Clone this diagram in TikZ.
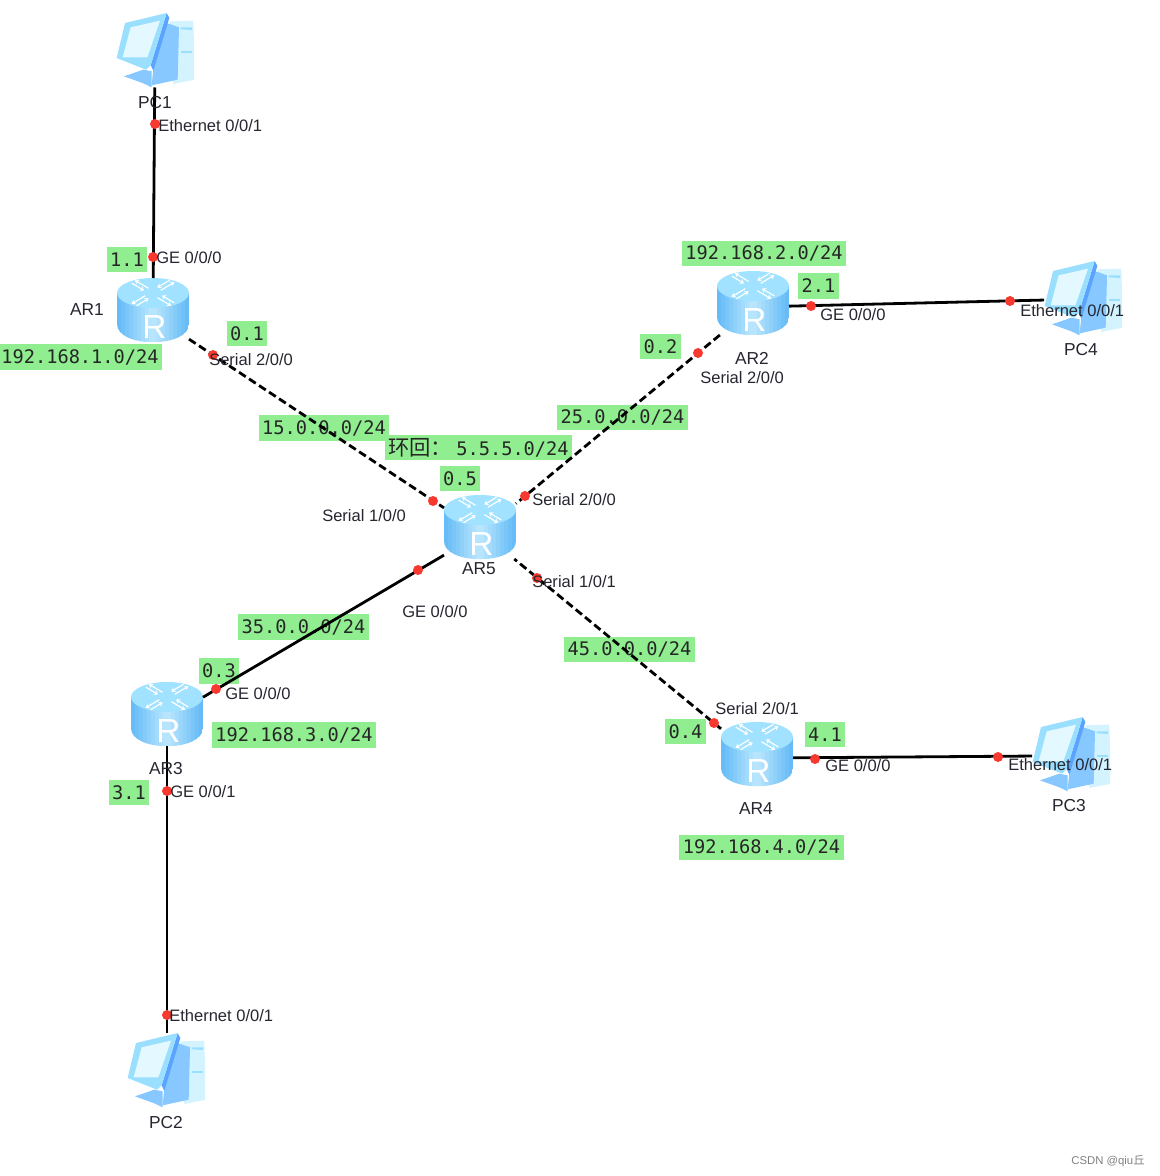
\documentclass[tikz,border=0pt]{standalone}
\usepackage{fontspec}
\setmainfont{Liberation Sans}
\newfontfamily\ipfont{DejaVu Sans Mono}
\newfontfamily\cjkfont{Noto Sans CJK SC}
\usepackage{xcolor}
\usetikzlibrary{arrows.meta,positioning}

\definecolor{ipgreen}{HTML}{90EE90}
\definecolor{portred}{HTML}{F8392F}
\definecolor{labelink}{HTML}{262630}
\definecolor{routerside}{HTML}{62B9F6}
\definecolor{routermid}{HTML}{BDE8FF}
\definecolor{routertop}{HTML}{A0E2FF}
\definecolor{pcfront}{HTML}{D3F4FF}
\definecolor{pcside}{HTML}{86C8FF}
\definecolor{pcframe}{HTML}{9BDFFF}
\definecolor{pcscreen}{HTML}{E4F8FF}
\definecolor{pcstrip}{HTML}{5AA4FF}

\tikzset{
    routerbox/.style={rectangle, minimum width=54pt, minimum height=48pt, inner sep=0pt, outer sep=0pt,
        path picture={
            \begin{scope}[shift={(path picture bounding box.center)}, x=.25pt, y=-.25pt]
                \begin{scope}
                    \clip (-108,-51) -- (-108,42) .. controls (-108,115) and (108,115) .. (108,42) -- (108,-51) -- cycle;
                    \foreach \k in {-108,-96,...,96} {
                        \pgfmathtruncatemacro\mixval{100-abs(\k+6)*100/108}
                        \fill[routermid!\mixval!routerside] (\k,-51) rectangle (\k+13,120);
                    }
                \end{scope}
                \fill[routertop] (0,-51) ellipse [x radius=108, y radius=45];
                \foreach \a in {45,135,225,315} {
                    \pgfmathsetmacro\ca{cos(\a)}
                    \pgfmathsetmacro\sa{sin(\a)}
                    \draw[white, line width=.9pt, -{Stealth[length=3pt,width=4pt]}]
                        ({\ca*26-\sa*7},{-51+.6*(\sa*26+\ca*7)}) -- ({\ca*84-\sa*7},{-51+.6*(\sa*84+\ca*7)});
                    \draw[white, line width=.9pt, -{Stealth[length=3pt,width=4pt]}]
                        ({\ca*80+\sa*10},{-51+.6*(\sa*80-\ca*10)}) -- ({\ca*28+\sa*10},{-51+.6*(\sa*28-\ca*10)});
                }
                \node[white, inner sep=0pt, font=\fontsize{25}{25}\selectfont] at (4,50) {R};
            \end{scope}
        }},
    pcbox/.style={rectangle, minimum width=58.5pt, minimum height=56.25pt, inner sep=0pt, outer sep=0pt,
        path picture={
            \begin{scope}[shift={(path picture bounding box.center)}, x=.25pt, y=-.25pt]
                % tower
                \fill[pcfront] (43,-86) -- (115,-88) -- (120,89) -- (55,102) -- cycle;
                \fill[pcside] (35,-81) -- (72,-68) -- (68,89) -- (-10,106) -- (-5,54) -- cycle;
                \fill[pcframe] (77,-68) -- (111,-68) -- (111,-60) -- (77,-62) -- cycle;
                \fill[pcframe] (77,4) -- (111,4) -- (111,10) -- (77,10) -- cycle;
                % stand
                \fill[pcside] (-93,79) -- (-35,59) -- (-10,64) -- (-10,112) -- (-35,100) -- cycle;
                % monitor
                \fill[pcstrip] (35,-111) -- (43,-96) -- (-5,62) -- (-13,46) -- cycle;
                \fill[pcframe] (-90,-81) -- (35,-111) -- (-13,46) -- (-27,59) -- (-115,24) -- cycle;
                \fill[pcscreen] (-73,-68) -- (15,-88) -- (-23,22) -- (-97,22) -- cycle;
            \end{scope}
        }},
    iplabel/.style={rectangle, fill=ipgreen, text=black!85, inner xsep=2.6pt, inner ysep=0pt, minimum height=19.2pt,
        font=\ipfont\fontsize{14}{14}\selectfont},
    portlabel/.style={anchor=west, inner sep=0pt, yshift=-.75pt, text=labelink, font=\fontsize{12.4}{12.4}\selectfont},
    devlabel/.style={inner sep=0pt, yshift=-.75pt, text=labelink, font=\fontsize{13}{13}\selectfont},
    portdot/.style={circle, fill=portred, minimum size=7.5pt, inner sep=0pt},
    eth/.style={line width=2.1pt, black},
    serial/.style={line width=2.1pt, black, dash pattern=on 6pt off 3pt}
}

\begin{document}
\begin{tikzpicture}[x=.75pt, y=-.75pt]
    \useasboundingbox (0,0) rectangle (1159,1176);

    % Network labels
    \node[iplabel] (netone) at (80,357) {192.168.1.0/24};
    \node[iplabel] (ipone) at (127,259.5) {1.1};
    \node[iplabel] (ipfifteen) at (247,333.5) {0.1};
    \node[iplabel] (netfifteen) at (324,428) {15.0.0.0/24};
    \node[iplabel] (netloop) at (478.5,447.5) {{\cjkfont\fontsize{16}{16}\selectfont 环回：}\hspace{3pt}5.5.5.0/24};
    \node[iplabel] (ipfive) at (460,478.5) {0.5};
    \node[iplabel] (nettwentyfive) at (622.5,417.5) {25.0.0.0/24};
    \node[iplabel] (iptwentyfive) at (660.5,346.5) {0.2};
    \node[iplabel] (nettwo) at (764,253.5) {192.168.2.0/24};
    \node[iplabel] (iptwo) at (818.5,286) {2.1};
    \node[iplabel] (netthirtyfive) at (303.5,627) {35.0.0.0/24};
    \node[iplabel] (ipthirtyfive) at (219,671) {0.3};
    \node[iplabel] (netthree) at (294,735) {192.168.3.0/24};
    \node[iplabel] (ipthree) at (129,792.5) {3.1};
    \node[iplabel] (netfortyfive) at (629.5,649.5) {45.0.0.0/24};
    \node[iplabel] (ipfortyfive) at (685.5,731.5) {0.4};
    \node[iplabel] (ipfour) at (825,734.5) {4.1};
    \node[iplabel] (netfour) at (761.5,847.5) {192.168.4.0/24};

    % Routers
    \node[routerbox] (ar1) at (153,310) {};
    \node[routerbox] (ar2) at (753,303) {};
    \node[routerbox] (ar3) at (167,714) {};
    \node[routerbox] (ar4) at (757,754) {};
    \node[routerbox] (ar5) at (480,527) {};

    % PCs
    \node[pcbox] (pc1) at (155,50) {};
    \node[pcbox] (pc2) at (166,1070) {};
    \node[pcbox] (pc3) at (1071,754) {};
    \node[pcbox] (pc4) at (1083,298) {};

    % Links
    \draw[eth] (pc1) -- (ar1);
    \draw[eth] (ar3.south) -- (ar3.south |- pc2.north);
    \draw[eth] (ar2.355) -- (pc4.183);
    \draw[eth] (ar4.354) -- (pc3.183);
    \draw[eth] (ar3.25) -- (ar5.218);
    \draw[serial] (ar1.321) -- (ar5.152);
    \draw[serial] (ar2.224) -- (ar5.33);
    \draw[serial] (ar4.145) -- (ar5.317);

    % Port dots
    \node[portdot] (dotpcone) at (155,124) {};
    \node[portdot] (dotarone) at (153,257) {};
    \node[portdot] (dotaroneser) at (213,355) {};
    \node[portdot] (dotfiveone) at (433,501) {};
    \node[portdot] (dotfivetwo) at (525,496) {};
    \node[portdot] (dotfivethree) at (418,570) {};
    \node[portdot] (dotfivefour) at (537,578) {};
    \node[portdot] (dotartwoser) at (698,353) {};
    \node[portdot] (dotartwo) at (811,306) {};
    \node[portdot] (dotpcfour) at (1010,301) {};
    \node[portdot] (dotarthree) at (216,689) {};
    \node[portdot] (dotarthreepc) at (167,791) {};
    \node[portdot] (dotpctwo) at (167,1015) {};
    \node[portdot] (dotarfourser) at (714,723) {};
    \node[portdot] (dotarfour) at (815,759) {};
    \node[portdot] (dotpcthree) at (998,757) {};

    % Port labels
    \node[portlabel] (portpcone) at (158,125) {Ethernet 0/0/1};
    \node[portlabel] (portarone) at (156,257) {GE 0/0/0};
    \node[portlabel] (portaroneser) at (209,359) {Serial 2/0/0};
    \node[portlabel] (portfiveone) at (322,515) {Serial 1/0/0};
    \node[portlabel] (portfivetwo) at (532,499) {Serial 2/0/0};
    \node[portlabel] (portfivefour) at (532,581) {Serial 1/0/1};
    \node[portlabel] (portfivethree) at (402,611) {GE 0/0/0};
    \node[portlabel] (portarthree) at (225,693) {GE 0/0/0};
    \node[portlabel] (portarthreepc) at (170,791) {GE 0/0/1};
    \node[portlabel] (portpctwo) at (169,1015) {Ethernet 0/0/1};
    \node[portlabel] (portarfourser) at (715,708) {Serial 2/0/1};
    \node[portlabel] (portarfour) at (825,765) {GE 0/0/0};
    \node[portlabel] (portpcthree) at (1008,764) {Ethernet 0/0/1};
    \node[portlabel] (portartwoser) at (700,377) {Serial 2/0/0};
    \node[portlabel] (portartwo) at (820,314) {GE 0/0/0};
    \node[portlabel] (portpcfour) at (1020,310) {Ethernet 0/0/1};

    % Device names
    \node[devlabel] (namepcone) at (155,102) {PC1};
    \node[devlabel] (namearone) at (87,309) {AR1};
    \node[devlabel] (nameartwo) at (752,357) {AR2};
    \node[devlabel] (namearthree) at (166,768) {AR3};
    \node[devlabel] (namearfour) at (756,808) {AR4};
    \node[devlabel] (namearfive) at (479,568) {AR5};
    \node[devlabel] (namepctwo) at (166,1122) {PC2};
    \node[devlabel] (namepcthree) at (1069,805) {PC3};
    \node[devlabel] (namepcfour) at (1081,349) {PC4};

    % Watermark
    \node[inner sep=0pt, text=black!50, font=\fontsize{8.5}{8.5}\selectfont] (mark) at (1108,1161) {CSDN @qiu{\cjkfont 丘}};
\end{tikzpicture}
\end{document}
